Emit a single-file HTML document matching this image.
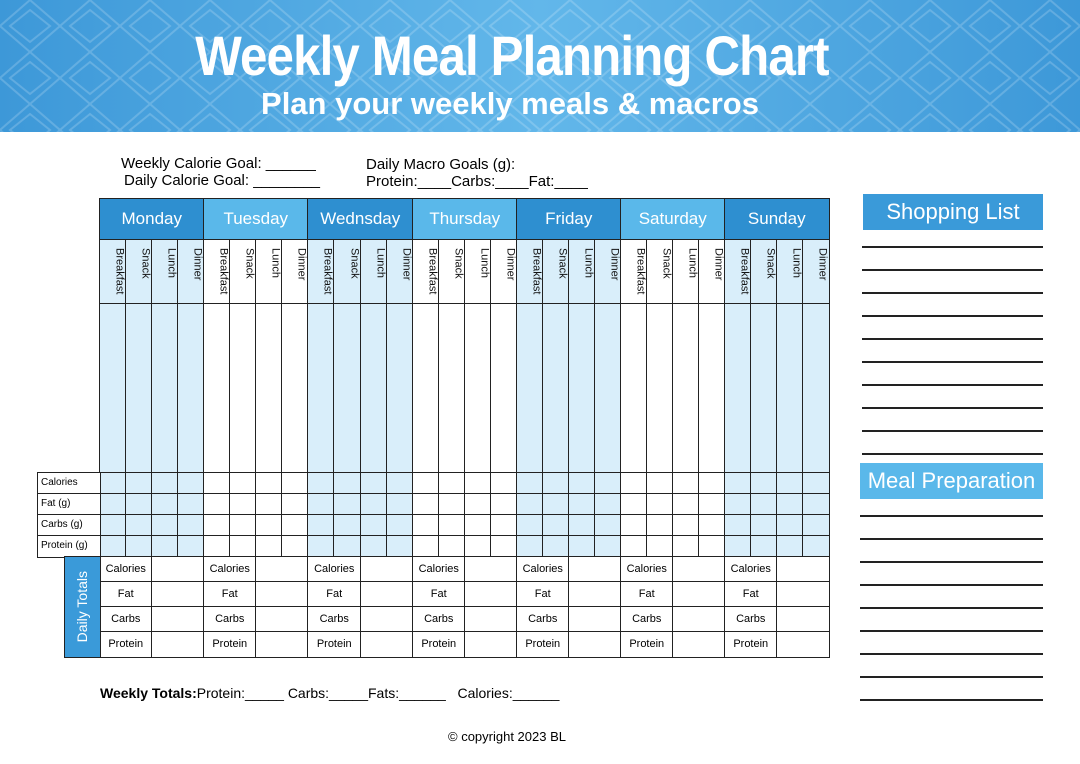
<!DOCTYPE html>
<html><head><meta charset="utf-8">
<style>
body{margin:0;width:1080px;height:764px;background:#fff;position:relative;overflow:hidden;font-family:"Liberation Sans",sans-serif;}
.a{position:absolute;box-sizing:border-box;}
.c{display:flex;align-items:center;justify-content:center;}
.v{writing-mode:vertical-rl;font-size:11px;color:#111;padding-top:8px;}
</style></head><body>
<div class="a" style="left:0;top:0;width:1080px;height:132px;background:linear-gradient(90deg,#3d98d8,#62b7ea 50%,#3d98d8);"></div>
<svg class="a" style="left:0;top:0" width="1080" height="132">
<defs><pattern id="p" width="60" height="52" patternUnits="userSpaceOnUse"><path d="M30 0 L60 26 L30 52 L0 26Z M30 10 L50 26 L30 42 L10 26Z" fill="none" stroke="rgba(255,255,255,0.18)" stroke-width="2"/></pattern></defs>
<rect width="1080" height="132" fill="url(#p)"/></svg>
<div class="a c" style="left:0;top:22px;width:1024px;height:66px;color:#fff;font-weight:bold;font-size:56px;letter-spacing:-1px;transform:scaleX(0.88);">Weekly Meal Planning Chart</div>
<div class="a c" style="left:0;top:84px;width:1020px;height:40px;color:#fff;font-weight:bold;font-size:31px;">Plan your weekly meals &amp; macros</div>
<div class="a" style="left:121px;top:155px;font-size:15px;">Weekly Calorie Goal: ______</div>
<div class="a" style="left:124px;top:172px;font-size:15px;">Daily Calorie Goal: ________</div>
<div class="a" style="left:366px;top:156px;font-size:15px;">Daily Macro Goals (g):</div>
<div class="a" style="left:366px;top:173px;font-size:15px;">Protein:____Carbs:____Fat:____</div>
<div id="g"></div>
<div class="a" style="left:100px;top:685px;font-size:14px;"><b>Weekly Totals:</b>Protein:_____ Carbs:_____Fats:______&nbsp;&nbsp; Calories:______</div>
<div class="a c" style="left:0;top:727px;width:1014px;height:18px;font-size:13px;">© copyright 2023 BL</div>
<div class="a c" style="left:863px;top:194px;width:180px;height:36px;background:#3a9ad9;color:#fff;font-size:22px;">Shopping List</div>
<div class="a c" style="left:860px;top:463px;width:183px;height:36px;background:#5ab8ea;color:#fff;font-size:22px;">Meal Preparation</div>
<script>
const days=["Monday","Tuesday","Wednsday","Thursday","Friday","Saturday","Sunday"];
const meals=["Breakfast","Snack","Lunch","Dinner"];
const macros=["Calories","Fat (g)","Carbs (g)","Protein (g)"];
const totals=["Calories","Fat","Carbs","Protein"];
const g=document.getElementById('g');
function box(x,y,w,h,bg,cls,txt){const d=document.createElement('div');d.className='a '+(cls||'');d.style.cssText=`left:${x}px;top:${y}px;width:${w+1.5}px;height:${h+1.5}px;background:${bg};border:1.5px solid #222;`;if(txt)d.textContent=txt;g.appendChild(d);return d;}
const X0=99,DW=104.2;
const px=f=>Math.round(f);
days.forEach((dn,i)=>{
 const xf=X0+i*DW, x=px(xf), xe=px(xf+DW), even=i%2==0;
 const h=box(x,198,xe-x,41,even?'#2e8fd0':'#5ab8ea','c',dn);
 h.style.color='#fff';h.style.fontSize='17px';
 
 
 const fill=even?'#d9eefa':'#fff';
 meals.forEach((m,j)=>{
  const cx=px(xf+j*DW/4), ce=px(xf+(j+1)*DW/4);
  const l=box(cx,239,ce-cx,64,fill,'v',m);
  
  
  const b=box(cx,303,ce-cx,169,fill);
  
  
  macros.forEach((mm,k)=>{
   const e=box(cx,472+k*21,ce-cx,21,fill);
   
   
  });
 });
 const xm=px(xf+DW/2);
 totals.forEach((t,k)=>{
  const l=box(x,556+k*25,xm-x,25,'#fff','c',t);l.style.fontSize='11px';
  
  
  const v=box(xm,556+k*25,xe-xm,25,'#fff');
  
  
 });
});
macros.forEach((m,k)=>{
 const l=box(37,472+k*21,62,21,'#fff','',m);l.style.fontSize='10px';l.style.padding='4px 3px';
 
 
});
const dt=box(64,556,35,100,'#3a9ad9','c');
dt.innerHTML='<span style="writing-mode:vertical-rl;transform:rotate(180deg);color:#fff;font-size:14px">Daily Totals</span>';


function line(x,y,w){const d=document.createElement('div');d.className='a';d.style.cssText=`left:${x}px;top:${y}px;width:${w}px;height:1.5px;background:#222;`;g.appendChild(d);return d;}
for(let i=0;i<10;i++){const l=line(862,246+i*23,181);
 
 }
for(let i=0;i<9;i++){const l=line(860,515+i*23,183);
 
 }
</script>
</body></html>
